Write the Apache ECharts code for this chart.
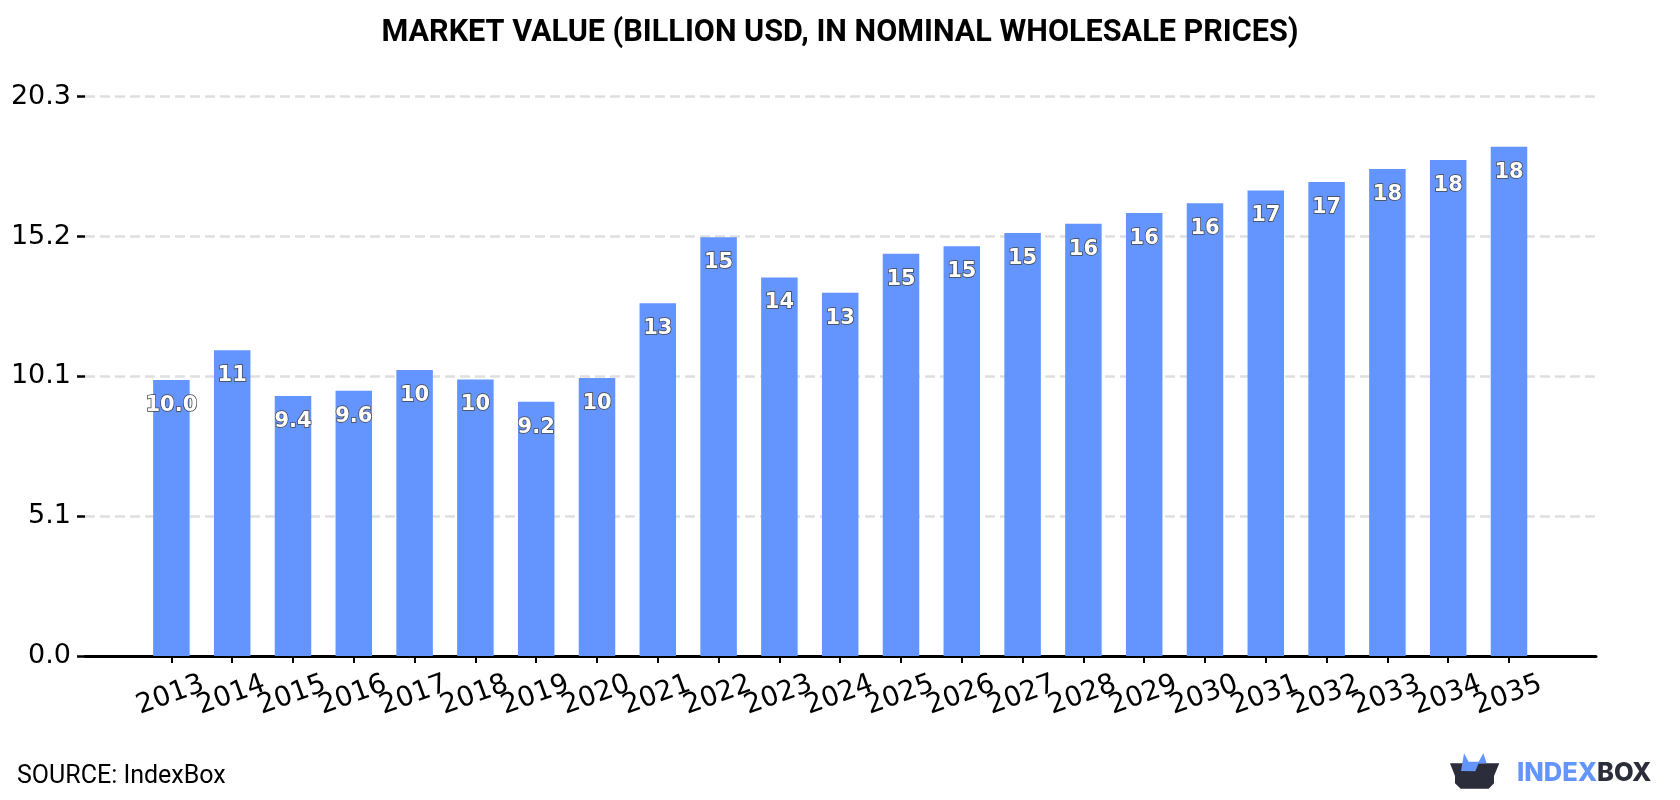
<!DOCTYPE html>
<html>
<head>
<meta charset="utf-8">
<style>html,body{margin:0;padding:0;background:#fff}#chart{width:1680px;height:800px}</style>
<script src="https://cdn.jsdelivr.net/npm/echarts@6/dist/echarts.min.js"></script>
</head>
<body>
<div id="chart"></div>
<script>
const years = ['2013','2014','2015','2016','2017','2018','2019','2020','2021','2022','2023','2024','2025','2026','2027','2028','2029','2030','2031','2032','2033','2034','2035'];
const marketValue = [10.02,11.1,9.44,9.63,10.38,10.04,9.23,10.09,12.8,15.2,13.74,13.18,14.6,14.87,15.35,15.69,16.08,16.43,16.9,17.2,17.68,18.0,18.48];
const valueLabels = ['10.0','11','9.4','9.6','10','10','9.2','10','13','15','14','13','15','15','15','16','16','16','17','17','18','18','18'];
const yTickLabels = ['0.0','5.1','10.1','15.2','20.3'];
const yMax = 20.3;
const yStep = 5.075;

const BLUE = '#6495FF';
const DARK = '#2B2D3A';
const SANS = 'Roboto, sans-serif';
const TICK_FONT = '"DejaVu Sans", sans-serif';

const chart = echarts.init(document.getElementById('chart'), null, {renderer: 'canvas'});

// Logo: an open dark box with a blue shape rising out of it
function logoPt(x, y) { return [1400 + x / 3, 700 + y / 3]; }
const logoBox = [[150,190],[298,190],[282,228],[282,250],[266,266],[182,266],[165,250],[165,228]].map(p => logoPt(p[0], p[1]));
const logoCrown = [[183,213],[192,160],[206,185],[236,185],[250,160],[260,190],[236,190],[226,214]].map(p => logoPt(p[0], p[1]));

chart.setOption({
  animation: false,
  backgroundColor: '#fff',
  title: {
    text: 'MARKET VALUE (BILLION USD, IN NOMINAL WHOLESALE PRICES)',
    left: 'center',
    top: 13,
    textStyle: {fontFamily: SANS, fontSize: 30.6, fontWeight: 700, color: '#000'}
  },
  // Outer grid carries the value axis, gridlines and baseline; inner grid carries the bars
  grid: [
    {left: 85, width: 1511, top: 96.7, height: 559.3},
    {left: 141, width: 1398.4, top: 96.7, height: 559.3}
  ],
  xAxis: [
    {
      gridIndex: 0, type: 'value', min: 0, max: 1,
      axisLine: {show: true, onZero: false, lineStyle: {color: '#000', width: 3}},
      axisTick: {show: false}, axisLabel: {show: false}, splitLine: {show: false}
    },
    {
      gridIndex: 1, type: 'category', data: years,
      axisLine: {show: false},
      axisTick: {show: true, alignWithLabel: true, length: 7, lineStyle: {color: '#000', width: 2}},
      axisLabel: {
        interval: 0, rotate: 20, margin: 39, align: 'center', verticalAlign: 'middle',
        padding: [0, 2, 0, 0],
        fontFamily: TICK_FONT, fontSize: 27.5, color: '#000'
      }
    }
  ],
  yAxis: [
    {
      gridIndex: 0, type: 'value', min: 0, max: yMax, interval: yStep,
      axisLine: {show: false},
      axisTick: {show: true, length: 8, lineStyle: {color: '#000', width: 2.5}},
      axisLabel: {
        margin: 14, fontFamily: TICK_FONT, fontSize: 27, color: '#000',
        padding: [4, 0, 0, 0],
        formatter: (v, i) => yTickLabels[i]
      },
      splitLine: {
        show: true,
        showMinLine: false,
        lineStyle: {color: '#DFDFDF', width: 2.5, type: [10, 5]}
      }
    },
    {
      gridIndex: 1, type: 'value', min: 0, max: yMax, interval: yStep,
      axisLine: {show: false}, axisTick: {show: false}, axisLabel: {show: false}, splitLine: {show: false}
    }
  ],
  series: [{
    type: 'bar',
    xAxisIndex: 1,
    yAxisIndex: 1,
    data: marketValue,
    barWidth: 36.5,
    itemStyle: {color: BLUE},
    label: {
      show: true,
      position: 'insideTop',
      distance: 15,
      formatter: p => valueLabels[p.dataIndex],
      fontFamily: TICK_FONT,
      fontWeight: 700,
      fontSize: 21,
      color: '#fff',
      textBorderColor: '#444',
      textBorderWidth: 1.5
    }
  }],
  graphic: [
    {type: 'text', left: 17, top: 764, style: {text: 'SOURCE: IndexBox', fontFamily: SANS, fontSize: 25, fill: '#000'}},
    {type: 'polygon', shape: {points: logoBox}, style: {fill: DARK}},
    {type: 'polygon', shape: {points: logoCrown}, style: {fill: BLUE}},
    {type: 'text', x: 1517, y: 760, style: {text: 'INDEX', fontFamily: 'Inter, sans-serif', fontSize: 25.5, fontWeight: 800, fill: BLUE}},
    {type: 'text', x: 1597, y: 760, style: {text: 'BOX', fontFamily: 'Inter, sans-serif', fontSize: 25.5, fontWeight: 800, fill: DARK}}
  ]
});
</script>
</body>
</html>
